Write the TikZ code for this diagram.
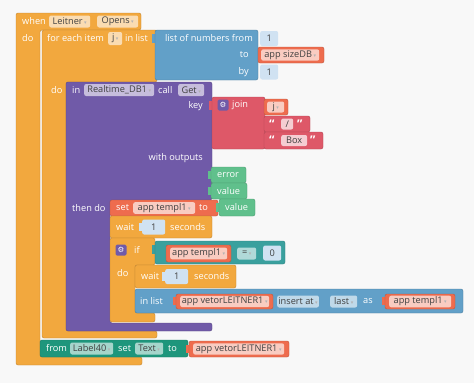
\documentclass[tikz,border=0pt]{standalone}
\usepackage{fontspec}
\setmainfont{Open Sans}
\newfontfamily\symfont{DejaVu Sans}
\usetikzlibrary{positioning}
\definecolor{CtrlOrange}{RGB}{242,168,62}
\definecolor{CompPurple}{RGB}{112,90,168}
\definecolor{ListBlue}{RGB}{98,160,200}
\definecolor{TextRed}{RGB}{222,88,104}
\definecolor{VarRed}{RGB}{238,108,78}
\definecolor{OutGreen}{RGB}{96,192,140}
\definecolor{SetTeal}{RGB}{30,150,124}
\definecolor{LogicTeal}{RGB}{58,160,158}
\definecolor{NumPale}{RGB}{208,226,242}
\definecolor{BgGray}{RGB}{248,248,248}
\newcommand{\dd}{\,{\symfont\color{black!30}\fontsize{5}{5}\selectfont▾}}
\newcommand{\gear}{{\symfont\fontsize{7.5}{7.5}\selectfont⚙}}
\begin{document}
\begin{tikzpicture}[x=1pt, y=-1pt, font=\fontsize{9.2}{10}\selectfont,
  lbl/.style={text=white, inner sep=0pt, anchor=west}, lblr/.style={lbl, anchor=east},
  fld/.style={rounded corners=2pt, inner sep=1.2pt, minimum height=12pt, text=black!75, anchor=west},
  num/.style={fld, fill=NumPale, minimum width=18pt, minimum height=15pt, align=center},
  gearbox/.style={fill=CompPurple, text=white, rounded corners=1.5pt, minimum size=11pt, inner sep=0pt},
  blk/.style={rounded corners=2pt, line width=0.4pt}]
\fill[BgGray] (0,0) rectangle (474,383);
% when Leitner.Opens
\filldraw[blk, fill=CtrlOrange, draw=CtrlOrange!80!black] (16,13) -- (141,13) -- (141,30) -- (40,30) -- (40,357) -- (142,357) -- (142,365) -- (16,365) -- cycle;
\node[lbl] (when) at (22,21.5) {when};
\node[fld, fill=CtrlOrange!40!white, minimum width=41pt] (fLeitner) at (49,21.5) {Leitner\dd};
\node[fld, fill=CtrlOrange!40!white, minimum width=41pt] (fOpens) at (97,21.5) {Opens\dd};
\node[lbl] (do0) at (22,38) {do};
% for each item
\filldraw[blk, fill=CtrlOrange, draw=CtrlOrange!80!black] (42,30) -- (157,30) -- (157,82) -- (66,82) -- (66,331) -- (157,331) -- (157,338) -- (42,338) -- cycle;
\node[lbl] (foreach) at (47,38.5) {for each item};
\node[fld, fill=CtrlOrange!40!white, minimum width=14pt, minimum height=13pt, inner sep=0.8pt] (fj) at (108,38.5) {j\dd};
\node[lbl] (inlist) at (125,38.5) {in list};
\node[lbl] (do1) at (51,90) {do};
% list of numbers
\fill[ListBlue] (152,34) rectangle (156,43);
\filldraw[blk, fill=ListBlue, draw=ListBlue!80!black] (155,30) rectangle (258,80);
\node[lblr] (lnfrom) at (253,38.5) {list of numbers from};
\node[lblr] (lnto) at (249,55) {to};
\node[lblr] (lnby) at (249,72) {by};
\node[num] (nfrom) at (260,38.5) {1};
\filldraw[blk, fill=VarRed, draw=VarRed!80!black] (258,47) rectangle (324,63);
\node[fld, fill=VarRed!35!white, minimum width=58pt, minimum height=11pt] (vsize) at (261,55) {app sizeDB\dd};
\node[num] (nby) at (260,72) {1};
% call Realtime_DB1.Get
\filldraw[blk, fill=CompPurple, draw=CompPurple!80!black] (66,82) -- (212,82) -- (212,200) -- (110,200) -- (110,323) -- (212,323) -- (212,331) -- (66,331) -- cycle;
\node[lbl] (in) at (72,90) {in};
\node[fld, fill=CompPurple!40!white, minimum width=70pt] (fdb) at (84,90) {Realtime\_DB1\dd};
\node[lbl] (call) at (158,90) {call};
\node[fld, fill=CompPurple!40!white, minimum width=26pt] (fget) at (178,90) {Get\dd};
\node[lblr] (key) at (203,106) {key};
\node[lblr] (without) at (203,158) {with outputs};
\node[lbl] (thendo) at (72,208) {then do};
% join
\fill[TextRed] (209,101) rectangle (213,110);
\filldraw[blk, fill=TextRed, draw=TextRed!80!black] (212,97) rectangle (265,149);
\node[gearbox] (g1) at (223,105) {\gear};
\node[lbl] (join) at (232,105.5) {join};
\filldraw[blk, fill=VarRed, draw=VarRed!80!black] (264,99) rectangle (288,115);
\node[fld, fill=VarRed!35!white, minimum width=17pt, minimum height=11pt, inner sep=0.8pt] (vj) at (267,107) {j\dd};
\filldraw[blk, fill=TextRed, draw=TextRed!80!black] (264,116) rectangle (310,132);
\node[lbl] (q1) at (269,124.5) {\large\bfseries“};
\node[fld, fill=TextRed!30!white, minimum width=12pt, minimum height=11pt] (tslash) at (281,124) {/};
\node[lbl] (q2) at (297,124.5) {\large\bfseries”};
\filldraw[blk, fill=TextRed, draw=TextRed!80!black] (264,132) rectangle (323,149);
\node[lbl] (q3) at (269,140.5) {\large\bfseries“};
\node[fld, fill=TextRed!30!white, minimum width=26pt, minimum height=11pt] (tbox) at (281,140.5) {Box};
\node[lbl] (q4) at (310,140.5) {\large\bfseries”};
% outputs
\fill[OutGreen] (208,171) rectangle (212,179);
\filldraw[blk, fill=OutGreen, draw=OutGreen!80!black] (211,167) rectangle (246,183);
\node[lbl] (err) at (217,175) {error};
\fill[OutGreen] (208,187) rectangle (212,195);
\filldraw[blk, fill=OutGreen, draw=OutGreen!80!black] (211,183) rectangle (247,199);
\node[lbl] (val1) at (217,191) {value};
% set app templ1
\filldraw[blk, fill=VarRed, draw=VarRed!80!black] (110,200) rectangle (218,216);
\node[lbl] (set1) at (116,208) {set};
\node[fld, fill=VarRed!35!white, minimum width=62pt, minimum height=11pt] (fset) at (133,208) {app templ1\dd};
\node[lbl] (to1) at (199,208) {to};
\fill[OutGreen] (216,203) rectangle (220,212);
\filldraw[blk, fill=OutGreen, draw=OutGreen!80!black] (219,199) rectangle (255,216);
\node[lbl] (val2) at (225,207.5) {value};
% wait 1 seconds
\filldraw[blk, fill=CtrlOrange, draw=CtrlOrange!80!black] (110,216) rectangle (212,238);
\node[lbl] (wait1) at (116,227) {wait};
\fill[NumPale] (139,223) rectangle (143,231);
\node[num, minimum width=23pt] (nw1) at (142,227) {1};
\node[lbl] (sec1) at (170,227) {seconds};
% if
\filldraw[blk, fill=CtrlOrange, draw=CtrlOrange!80!black] (110,238) -- (155,238) -- (155,265) -- (135,265) -- (135,313) -- (155,313) -- (155,322) -- (110,322) -- cycle;
\node[gearbox] (g2) at (121,250) {\gear};
\node[lbl] (if) at (134,250) {if};
\node[lbl] (do2) at (117,273) {do};
\fill[LogicTeal] (152,245) rectangle (156,254);
\filldraw[blk, fill=LogicTeal, draw=LogicTeal!80!black] (155,241) rectangle (285,264);
\filldraw[blk, fill=VarRed, draw=VarRed!80!black] (166,245) rectangle (231,262);
\node[fld, fill=VarRed!35!white, minimum width=57pt, minimum height=11pt] (vtempl) at (170,253.5) {app templ1\dd};
\node[fld, fill=LogicTeal!40!white, minimum width=19pt] (feq) at (237,253.5) {=\dd};
\node[num] (nzero) at (263,253) {0};
% wait 1 seconds (inner)
\filldraw[blk, fill=CtrlOrange, draw=CtrlOrange!80!black] (135,265) rectangle (236,288);
\node[lbl] (wait2) at (141,276.5) {wait};
\fill[NumPale] (162,272) rectangle (166,281);
\node[num, minimum width=23pt] (nw2) at (165,276.5) {1};
\node[lbl] (sec2) at (194,276.5) {seconds};
% in list insert
\filldraw[blk, fill=ListBlue, draw=ListBlue!80!black] (135,289) rectangle (463,313);
\node[lbl] (inlist2) at (140,301) {in list};
\fill[VarRed] (173,297) rectangle (177,305);
\filldraw[blk, fill=VarRed, draw=VarRed!80!black] (176,294) rectangle (273,309);
\node[fld, fill=VarRed!35!white, minimum width=89pt, minimum height=11pt] (vvet1) at (180,301.5) {app vetorLEITNER1\dd};
\node[fld, fill=ListBlue!40!white, minimum width=40pt] (fins) at (277,301.5) {insert at\dd};
\node[fld, fill=ListBlue!40!white, minimum width=27pt] (flast) at (330,301.5) {last\dd};
\node[lbl] (as) at (363,301.5) {as};
\fill[VarRed] (382,297) rectangle (386,305);
\filldraw[blk, fill=VarRed, draw=VarRed!80!black] (385,294) rectangle (455,309);
\node[fld, fill=VarRed!35!white, minimum width=62pt, minimum height=11pt] (vtempl2) at (389,301.5) {app templ1\dd};
% set Label40.Text
\filldraw[blk, fill=SetTeal, draw=SetTeal!80!black] (40,340) rectangle (188,357);
\node[lbl] (from) at (46,348.5) {from};
\node[fld, fill=SetTeal!40!white, minimum width=43pt] (flabel) at (70,348.5) {Label40\dd};
\node[lbl] (set2) at (118,348.5) {set};
\node[fld, fill=SetTeal!40!white, minimum width=28pt] (ftext) at (135,348.5) {Text\dd};
\node[lbl] (to2) at (168,348.5) {to};
\fill[VarRed] (186,345) rectangle (190,353);
\filldraw[blk, fill=VarRed, draw=VarRed!80!black] (189,341) rectangle (289,357);
\node[fld, fill=VarRed!35!white, minimum width=91pt, minimum height=11pt] (vvet2) at (193,349) {app vetorLEITNER1\dd};
\end{tikzpicture}
\end{document}
